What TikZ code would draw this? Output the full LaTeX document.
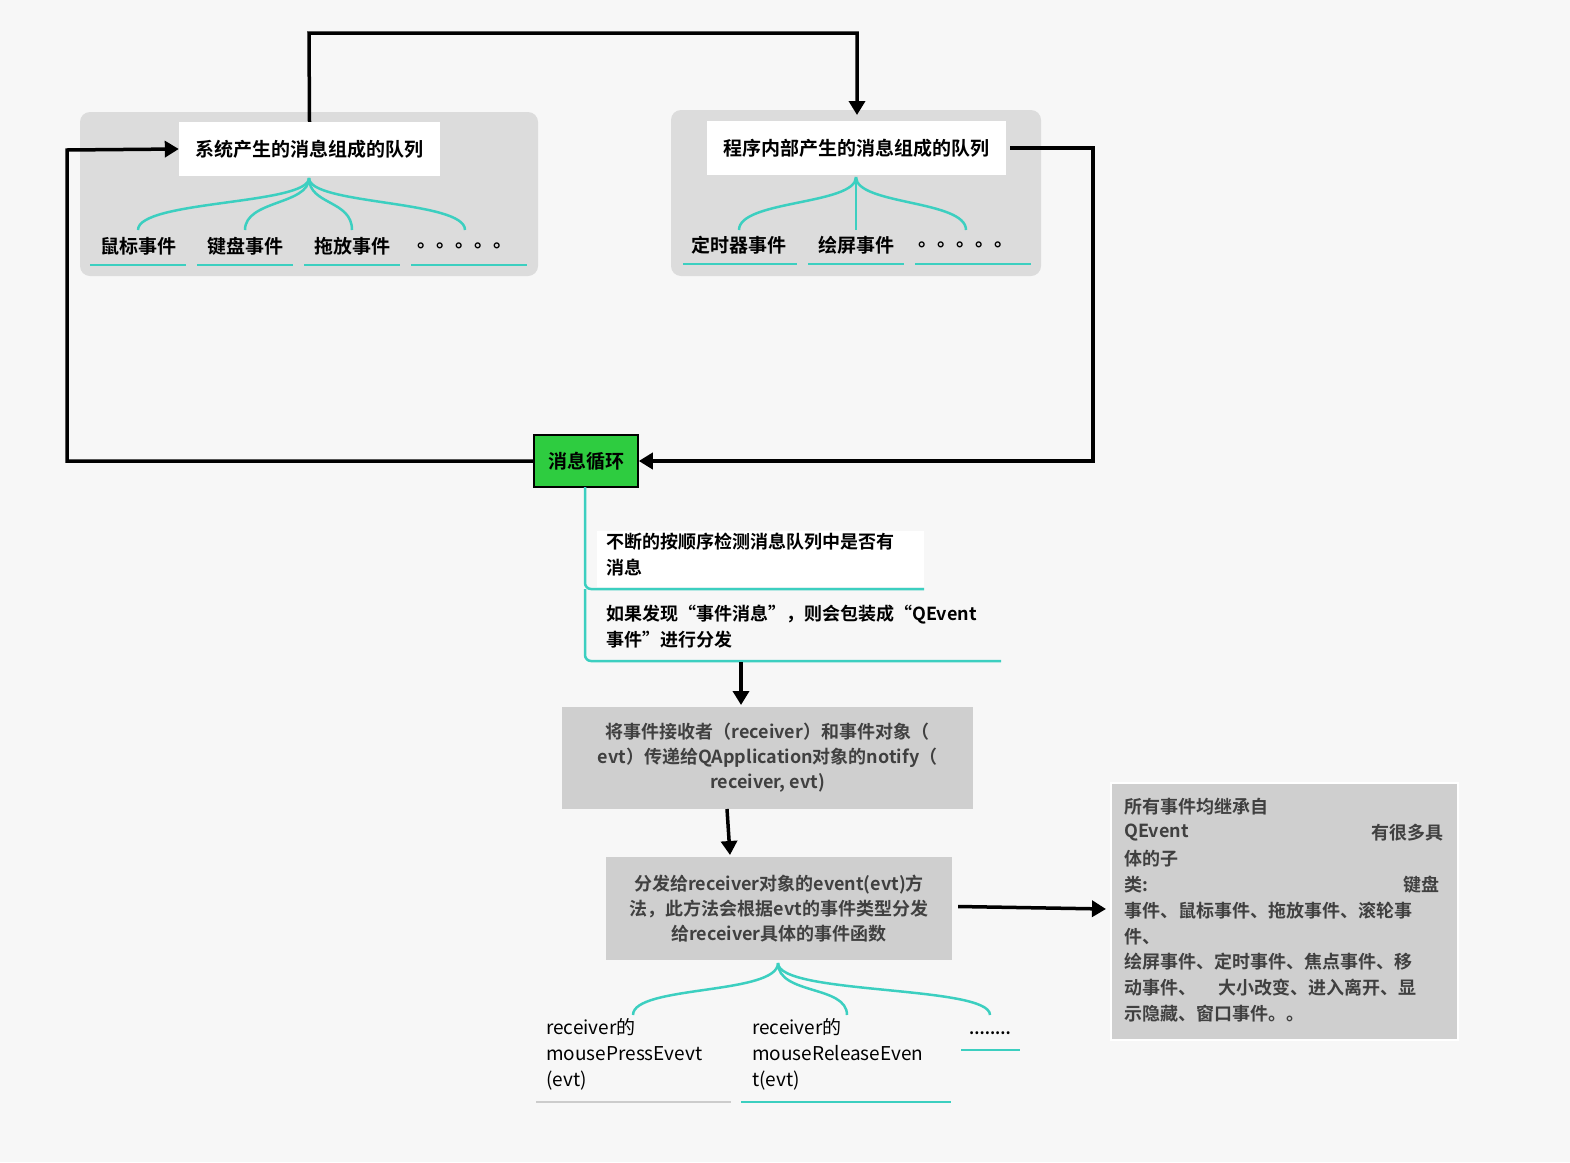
\documentclass[tikz,border=0pt]{standalone}
\usepackage{fontspec}
\setmainfont{Noto Sans CJK SC}[BoldFont={Noto Sans CJK SC Bold}]
\usetikzlibrary{arrows.meta}
\definecolor{bg}{HTML}{F7F7F7}
\definecolor{pan}{HTML}{DCDCDC}
\definecolor{teal}{HTML}{3CCFC0}
\definecolor{grn}{HTML}{2ECC40}
\definecolor{gbox}{HTML}{CFCFCF}
\tikzset{
 conn/.style={line width=3.5pt,-{Triangle[length=14pt,width=16pt]}},
 tl/.style={teal,line width=2.5pt},
 lab/.style={font=\fontsize{19}{25}\selectfont\bfseries,inner sep=0pt},
 tbox/.style={fill=white,lab,minimum height=54pt},
 gb/.style={fill=gbox,lab,align=center,text=black!75},
 rt/.style={font=\fontsize{18}{24}\selectfont\bfseries,text=black!75,anchor=west,inner sep=0pt},
 ct/.style={font=\fontsize{19}{26}\selectfont,align=left,anchor=north west,inner sep=0pt}
}
\begin{document}
\begin{tikzpicture}[x=1pt,y=-1pt]
\fill[bg] (0,0) rectangle (1570,1162);
\useasboundingbox (0,0) rectangle (1570,1162);
% panels
\fill[pan,rounded corners=10pt] (80,112) rectangle (538,276);
\fill[pan,rounded corners=10pt] (671,110) rectangle (1041,276);
\node[tbox,minimum width=261pt] (t1) at (309.5,149) {系统产生的消息组成的队列};
\node[tbox,minimum width=299pt] (t2) at (856.5,148) {程序内部产生的消息组成的队列};
% left children
\foreach \x/\a/\b/\t/\n in {138/90/186/鼠标事件/a1,245/197/293/键盘事件/a2,352/304/400/拖放事件/a3,465/411/527/。。。。。/a4}{
  \node[lab] (\n) at (\x,246) {\t};
  \draw[tl] (\a,265) -- (\b,265);
  \draw[tl] (309,178) .. controls (309,205) and (\x,200) .. (\x,230);
}
\foreach \x/\a/\b/\t/\n in {739/683/797/定时器事件/b1,856/808/904/绘屏事件/b2,966/915/1031/。。。。。/b3}{
  \node[lab] (\n) at (\x,245) {\t};
  \draw[tl] (\a,264) -- (\b,264);
  \draw[tl] (856,177) .. controls (856,205) and (\x,200) .. (\x,230);
}
% loop
\node[fill=grn,draw=black,line width=1.5pt,lab,minimum width=104pt,minimum height=52pt] (loop) at (586,461) {消息循环};
\draw[conn] (t1.north) -- (309,33) -- (857,33) -- (857,115);
\draw[conn] (t2.east) ++(4,0) -- (1093,148) -- (1093,461) -- (loop.east);
\draw[conn] (loop.west) -- (67,461) -- (67,150) -- (t1.west);
% teal branch
\draw[tl,rounded corners=6pt] (585,487) -- (585,589) -- (924,589);
\draw[tl,rounded corners=6pt] (585,589) -- (585,661) -- (1001,661);
\fill[white] (597,531) rectangle (924,587);
\node[lab,align=left,anchor=north west,font=\fontsize{18}{26}\selectfont\bfseries] (s1) at (606,533) {不断的按顺序检测消息队列中是否有\\消息};
\node[lab,align=left,anchor=north west,font=\fontsize{18}{26}\selectfont\bfseries] (s2) at (606,605) {如果发现“事件消息”，则会包装成“QEvent\\事件”进行分发};
\coordinate (c1) at (741,662);
% gray boxes
\node[gb,minimum width=411pt,minimum height=102pt,font=\fontsize{18}{25}\selectfont\bfseries] (g1) at (767.5,758) {将事件接收者（receiver）和事件对象（\\evt）传递给QApplication对象的notify（\\receiver, evt)};
\node[gb,minimum width=346pt,minimum height=103pt,font=\fontsize{18}{25}\selectfont\bfseries] (g2) at (779,908.5) {分发给receiver对象的event(evt)方\\法，此方法会根据evt的事件类型分发\\给receiver具体的事件函数};
\draw[conn] (c1) -- (741,705);
\draw[conn] (727,809) -- (730,855);
\node[fill=gbox,draw=white,line width=1.5pt,minimum width=347pt,minimum height=257pt] (rb) at (1284.5,911.5) {};
\draw[conn] (g2.east) ++(6,-2) -- (1106,909);
\foreach \y/\t in {807/所有事件均继承自,833/QEvent,859/体的子,885/类:,911/事件、鼠标事件、拖放事件、滚轮事,937/件、,962/绘屏事件、定时事件、焦点事件、移,988/{动事件、\hspace{22pt}大小改变、进入离开、显},1014/示隐藏、窗口事件。。}
  \node[rt] at (1124,\y) {\t};
\node[rt,anchor=east] at (1444,833) {有很多具};
\node[rt,anchor=east] at (1440,885) {键盘};
% bottom children
\foreach \x in {633,847,990}
  \draw[tl] (778,963) .. controls (778,995) and (\x,985) .. (\x,1015);
\node[ct] (d1) at (546,1018) {receiver的\\mousePressEvevt\\(evt)};
\node[ct] (d2) at (752,1018) {receiver的\\mouseReleaseEven\\t(evt)};
\node[lab,font=\fontsize{16}{20}\selectfont\bfseries] (d3) at (990,1033) {........};
\draw[line width=2.5pt,black!20] (536,1102) -- (731,1102);
\draw[tl] (741,1102) -- (951,1102);
\draw[tl] (961,1050) -- (1020,1050);
\end{tikzpicture}
\end{document}
